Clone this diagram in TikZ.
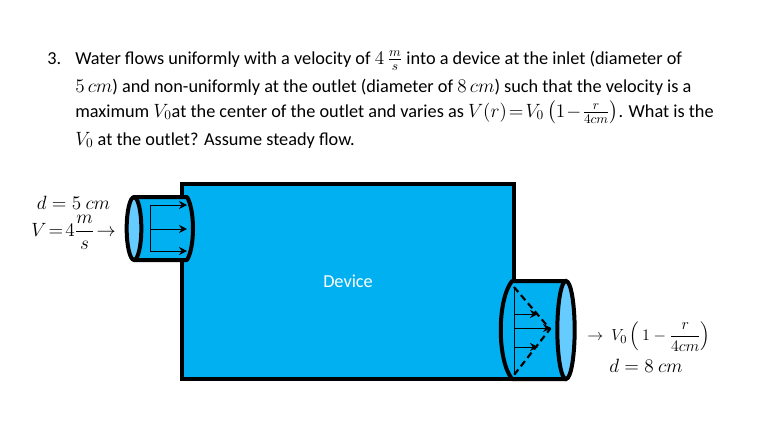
\documentclass[tikz,border=0pt]{standalone}
\usepackage{amsmath}
\usepackage{fontspec}
\setmainfont{Carlito}
\usetikzlibrary{shapes.geometric, arrows.meta}
\definecolor{devblue}{HTML}{00B0F0}
\definecolor{endblue}{HTML}{66CCFF}
\tikzstyle{devicebox} = [rectangle,
minimum width=249pt,
minimum height=146.25pt,
text centered,
line width=3pt,
draw=black,
text=white,
font=\fontsize{13.7}{16}\selectfont,
fill=devblue]
\tikzstyle{pipe} = [line width=3pt, draw=black, fill=devblue, line join=round]
\tikzstyle{pipeend} = [ellipse,
inner sep=0pt,
line width=3pt,
draw=black,
fill=endblue]
\tikzstyle{textline} = [anchor=base west, inner sep=0pt, font=\fontsize{13.7}{16}\selectfont]
\tikzstyle{mathlabel} = [inner sep=0pt, font=\fontsize{14}{16}\selectfont]
\tikzstyle{arrow} = [line width=0.75pt,-{Stealth[length=6pt,width=6pt]}]
\tikzstyle{profile} = [line width=0.75pt]
\tikzstyle{dashprofile} = [line width=1.6pt, dashed, dash pattern=on 5pt off 3pt]

\begin{document}
\begin{tikzpicture}[x=0.75pt,y=-0.75pt]
    \useasboundingbox (0,0) rectangle (783,426);
    % question text
    \node (num) [textline] at (47,64) {3.};
    \node (line1) [textline] at (75,64) {Water flows uniformly with a velocity of $4\,\frac{m}{s}$ into a device at the inlet (diameter of};
    \node (line2) [textline] at (75,92) {$5\,cm$) and non-uniformly at the outlet (diameter of $8\,cm$) such that the velocity is a};
    \node (line3) [textline] at (75,117) {maximum $V_0$at the center of the outlet and varies as $\thickmuskip=2mu\medmuskip=1mu V(r)=V_0\left(1-\frac{r}{4cm}\right)$. What is the};
    \node (line4) [textline] at (75,145) {$V_0$ at the outlet? Assume steady flow.};

    % device and pipes
    \node (device) [devicebox] at (348,281.5) {Device};
    \draw [pipe] (134,197) -- (187,197) .. controls (195,210) and (195,247) .. (187,260) -- (134,260) -- cycle;
    \node (inletend) [pipeend, minimum width=11pt, minimum height=47pt] at (134,228.5) {};
    \draw [pipe] (566,281) -- (512,281) .. controls (497,300) and (497,360) .. (512,379) -- (566,379) -- cycle;
    \node (outletend) [pipeend, minimum width=13pt, minimum height=73.5pt] at (566,330) {};

    % inlet profile
    \coordinate (intop) at (150,205);
    \coordinate (inmid) at (150,229);
    \coordinate (inbot) at (150,251);
    \coordinate (intopend) at (187,205);
    \coordinate (inmidend) at (187,229);
    \coordinate (inbotend) at (187,251);
    \draw [profile] (intop) -- (inbot);
    \draw [arrow] (intop) -- (intopend);
    \draw [arrow] (inmid) -- (inmidend);
    \draw [arrow] (inbot) -- (inbotend);

    % outlet profile
    \coordinate (outtop) at (514,287);
    \coordinate (outbot) at (514,375);
    \coordinate (outtip) at (550,329);
    \coordinate (outa) at (514,314);
    \coordinate (outb) at (514,328);
    \coordinate (outc) at (514,347);
    \coordinate (outaend) at (538,314);
    \coordinate (outbend) at (551,328);
    \coordinate (outcend) at (538,347);
    \draw [profile] (outtop) -- (outbot);
    \draw [arrow] (outa) -- (outaend);
    \draw [arrow] (outb) -- (outbend);
    \draw [arrow] (outc) -- (outcend);
    \draw [dashprofile] (outtop) -- (outtip) -- (outbot);

    % labels
    \node (ind) [mathlabel] at (73.5,203) {$d=5\ cm$};
    \node (inv) [mathlabel, anchor=east] at (116,232) {$\thickmuskip=2mu V=4\dfrac{m}{s}\rightarrow$};
    \node (outv) [mathlabel, anchor=west, font=\fontsize{13}{15}\selectfont] at (587,337) {$\thickmuskip=3mu\rightarrow\;\;V_0\left(\,1-\dfrac{r}{4cm}\right)$};
    \node (outd) [mathlabel] at (646,366) {$d=8\ cm$};
\end{tikzpicture}
\end{document}
